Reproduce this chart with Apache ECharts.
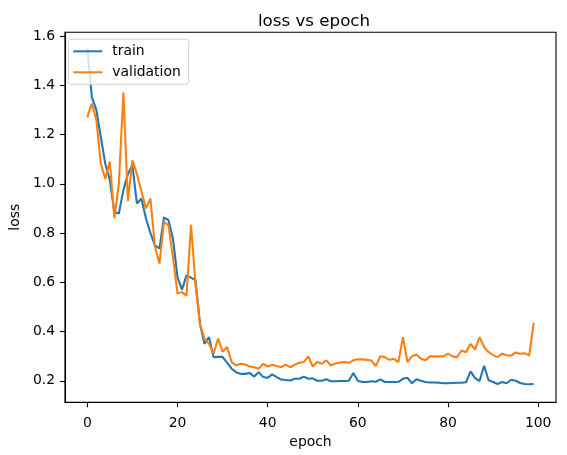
<!DOCTYPE html>
<html>
<head>
<meta charset="utf-8">
<script src="https://cdn.jsdelivr.net/npm/echarts@6/dist/echarts.min.js"></script>
<style>html,body{margin:0;padding:0;background:#fff}#c{width:567px;height:455px}</style>
</head>
<body>
<div id="c"></div>
<script>
const train = [1.55,1.353,1.30,1.19,1.08,1.014,0.885,0.879,0.974,1.04,
1.075,0.92,0.94,0.86,0.80,0.75,0.737,0.863,0.852,0.777,
0.621,0.57,0.628,0.619,0.608,0.43,0.35,0.377,0.296,0.297,
0.297,0.274,0.249,0.235,0.228,0.228,0.232,0.217,0.235,0.215,
0.212,0.226,0.215,0.205,0.203,0.201,0.208,0.208,0.217,0.208,
0.21,0.2,0.2,0.206,0.198,0.198,0.199,0.199,0.2,0.232,
0.2,0.195,0.195,0.198,0.196,0.206,0.195,0.195,0.195,0.196,
0.208,0.212,0.19,0.206,0.2,0.195,0.193,0.193,0.192,0.19,
0.19,0.191,0.192,0.192,0.194,0.238,0.211,0.199,0.261,0.202,
0.195,0.187,0.195,0.19,0.204,0.2,0.191,0.187,0.186,0.187];
const validation = [1.27,1.326,1.26,1.08,1.02,1.09,0.859,1.0,1.37,0.93,
1.095,1.04,0.97,0.9,0.94,0.745,0.676,0.845,0.831,0.70,
0.554,0.56,0.545,0.833,0.59,0.428,0.37,0.35,0.31,0.371,
0.318,0.337,0.276,0.262,0.269,0.266,0.258,0.255,0.249,0.269,
0.258,0.265,0.26,0.255,0.266,0.255,0.265,0.273,0.276,0.299,
0.258,0.276,0.269,0.283,0.262,0.27,0.274,0.276,0.273,0.283,
0.287,0.287,0.285,0.282,0.26,0.3,0.296,0.285,0.289,0.276,
0.377,0.276,0.299,0.307,0.289,0.283,0.299,0.299,0.299,0.299,
0.31,0.299,0.296,0.323,0.316,0.35,0.327,0.377,0.337,0.316,
0.304,0.296,0.31,0.304,0.302,0.315,0.31,0.312,0.302,0.435];
const epochs = train.map((_, i) => i);
const xTicks = [0, 20, 40, 60, 80, 100];
const yTicks = [0.2, 0.4, 0.6, 0.8, 1.0, 1.2, 1.4, 1.6];

const font = 'DejaVu Sans';
const chart = echarts.init(document.getElementById('c'), null, {renderer: 'canvas'});
chart.setOption({
  animation: false,
  backgroundColor: '#fff',
  title: {
    text: 'loss vs epoch', left: 309, top: 8, textAlign: 'center',
    textStyle: {fontFamily: font, fontSize: 16.7, fontWeight: 'normal', color: '#000'}
  },
  grid: {left: 61.5, right: 11, top: 32.3, bottom: 52.8, show: true, borderColor: '#000', borderWidth: 1.1, backgroundColor: 'transparent'},
  legend: {
    orient: 'vertical', left: 68.3, top: 39.3,
    padding: [5, 8, 5, 5], itemGap: 7, itemWidth: 29, itemHeight: 2,
    backgroundColor: 'rgba(255,255,255,0.8)', borderColor: '#d3d3d3', borderWidth: 1, borderRadius: 3,
    textStyle: {fontFamily: font, fontSize: 13.9, color: '#000', padding: [0, 0, 0, 5]},
    data: [{name: 'train', icon: 'rect'}, {name: 'validation', icon: 'rect'}]
  },
  xAxis: {
    type: 'value', min: -4.95, max: 103.95,
    name: 'epoch', nameLocation: 'middle', nameGap: 26,
    nameTextStyle: {fontFamily: font, fontSize: 13.9, color: '#000'},
    axisLine: {show: true, onZero: false, lineStyle: {color: '#000', width: 1.1}},
    splitLine: {show: false},
    axisTick: {show: true, length: 5, lineStyle: {color: '#000', width: 1.1}, customValues: xTicks},
    axisLabel: {fontFamily: font, fontSize: 13.9, color: '#000', margin: 14, customValues: xTicks, formatter: v => String(v)}
  },
  yAxis: {
    type: 'value', min: 0.113, max: 1.615,
    name: 'loss', nameLocation: 'middle', nameGap: 36,
    nameTextStyle: {fontFamily: font, fontSize: 13.9, color: '#000'},
    axisLine: {show: true, onZero: false, lineStyle: {color: '#000', width: 1.1}},
    splitLine: {show: false},
    axisTick: {show: true, length: 5, lineStyle: {color: '#000', width: 1.1}, customValues: yTicks},
    axisLabel: {fontFamily: font, fontSize: 13.9, color: '#000', margin: 10, customValues: yTicks, formatter: v => v.toFixed(1)}
  },
  series: [
    {name: 'train', type: 'line', showSymbol: false, symbol: 'none', data: epochs.map((e, i) => [e, train[i]]),
     lineStyle: {color: '#1f77b4', width: 2.08}, itemStyle: {color: '#1f77b4'}, z: 2},
    {name: 'validation', type: 'line', showSymbol: false, symbol: 'none', data: epochs.map((e, i) => [e, validation[i]]),
     lineStyle: {color: '#ff7f0e', width: 2.08}, itemStyle: {color: '#ff7f0e'}, z: 3}
  ]
});
</script>
</body>
</html>
